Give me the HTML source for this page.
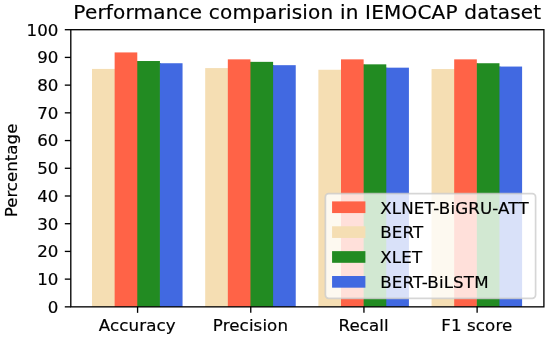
<!DOCTYPE html>
<html><head><meta charset="utf-8"><title>Performance comparision in IEMOCAP dataset</title>
<style>html,body{margin:0;padding:0;background:#fff}svg{display:block}text{font-family:"DejaVu Sans","Liberation Sans",sans-serif;fill:#000;stroke:#000;stroke-width:0.2px}</style></head><body>
<svg width="550" height="338" viewBox="0 0 550 338">
<rect width="550" height="338" fill="#fff"/>
<rect x="92.00" y="68.92" width="22.64" height="237.93" fill="#f5deb3"/>
<rect x="114.14" y="68.92" width="1.5" height="237.93" fill="#f5deb3"/>
<rect x="114.64" y="52.43" width="22.64" height="254.42" fill="#ff6347"/>
<rect x="136.78" y="61.02" width="1.5" height="245.83" fill="#ff6347"/>
<rect x="137.28" y="61.02" width="22.64" height="245.83" fill="#228b22"/>
<rect x="159.41" y="63.24" width="1.5" height="243.61" fill="#228b22"/>
<rect x="159.91" y="63.24" width="22.64" height="243.61" fill="#4169e1"/>
<rect x="205.19" y="68.09" width="22.64" height="238.76" fill="#f5deb3"/>
<rect x="227.32" y="68.09" width="1.5" height="238.76" fill="#f5deb3"/>
<rect x="227.82" y="59.36" width="22.64" height="247.49" fill="#ff6347"/>
<rect x="249.96" y="61.85" width="1.5" height="245.00" fill="#ff6347"/>
<rect x="250.46" y="61.85" width="22.64" height="245.00" fill="#228b22"/>
<rect x="272.60" y="65.18" width="1.5" height="241.67" fill="#228b22"/>
<rect x="273.10" y="65.18" width="22.64" height="241.67" fill="#4169e1"/>
<rect x="318.37" y="69.75" width="22.64" height="237.10" fill="#f5deb3"/>
<rect x="340.50" y="69.75" width="1.5" height="237.10" fill="#f5deb3"/>
<rect x="341.00" y="59.36" width="22.64" height="247.49" fill="#ff6347"/>
<rect x="363.14" y="64.34" width="1.5" height="242.51" fill="#ff6347"/>
<rect x="363.64" y="64.34" width="22.64" height="242.51" fill="#228b22"/>
<rect x="385.78" y="67.67" width="1.5" height="239.18" fill="#228b22"/>
<rect x="386.28" y="67.67" width="22.64" height="239.18" fill="#4169e1"/>
<rect x="431.55" y="69.06" width="22.64" height="237.79" fill="#f5deb3"/>
<rect x="453.69" y="69.06" width="1.5" height="237.79" fill="#f5deb3"/>
<rect x="454.19" y="59.36" width="22.64" height="247.49" fill="#ff6347"/>
<rect x="476.32" y="63.24" width="1.5" height="243.61" fill="#ff6347"/>
<rect x="476.82" y="63.24" width="22.64" height="243.61" fill="#228b22"/>
<rect x="498.96" y="66.56" width="1.5" height="240.29" fill="#228b22"/>
<rect x="499.46" y="66.56" width="22.64" height="240.29" fill="#4169e1"/>
<rect x="70.80" y="29.70" width="473.10" height="277.15" fill="none" stroke="#000" stroke-width="1.33" stroke-linejoin="miter"/>
<line x1="64.80" x2="70.80" y1="306.85" y2="306.85" stroke="#000" stroke-width="1.33"/>
<text x="58.40" y="312.75" font-size="16.67" text-anchor="end">0</text>
<line x1="64.80" x2="70.80" y1="279.13" y2="279.13" stroke="#000" stroke-width="1.33"/>
<text x="58.40" y="285.03" font-size="16.67" text-anchor="end">10</text>
<line x1="64.80" x2="70.80" y1="251.42" y2="251.42" stroke="#000" stroke-width="1.33"/>
<text x="58.40" y="257.32" font-size="16.67" text-anchor="end">20</text>
<line x1="64.80" x2="70.80" y1="223.70" y2="223.70" stroke="#000" stroke-width="1.33"/>
<text x="58.40" y="229.60" font-size="16.67" text-anchor="end">30</text>
<line x1="64.80" x2="70.80" y1="195.99" y2="195.99" stroke="#000" stroke-width="1.33"/>
<text x="58.40" y="201.89" font-size="16.67" text-anchor="end">40</text>
<line x1="64.80" x2="70.80" y1="168.28" y2="168.28" stroke="#000" stroke-width="1.33"/>
<text x="58.40" y="174.18" font-size="16.67" text-anchor="end">50</text>
<line x1="64.80" x2="70.80" y1="140.56" y2="140.56" stroke="#000" stroke-width="1.33"/>
<text x="58.40" y="146.46" font-size="16.67" text-anchor="end">60</text>
<line x1="64.80" x2="70.80" y1="112.84" y2="112.84" stroke="#000" stroke-width="1.33"/>
<text x="58.40" y="118.75" font-size="16.67" text-anchor="end">70</text>
<line x1="64.80" x2="70.80" y1="85.13" y2="85.13" stroke="#000" stroke-width="1.33"/>
<text x="58.40" y="91.03" font-size="16.67" text-anchor="end">80</text>
<line x1="64.80" x2="70.80" y1="57.41" y2="57.41" stroke="#000" stroke-width="1.33"/>
<text x="58.40" y="63.31" font-size="16.67" text-anchor="end">90</text>
<line x1="64.80" x2="70.80" y1="29.70" y2="29.70" stroke="#000" stroke-width="1.33"/>
<text x="58.40" y="35.60" font-size="16.67" text-anchor="end">100</text>
<line x1="137.58" x2="137.58" y1="306.85" y2="312.85" stroke="#000" stroke-width="1.33"/>
<text x="137.28" y="330.80" font-size="16.67" letter-spacing="0.1" text-anchor="middle">Accuracy</text>
<line x1="250.76" x2="250.76" y1="306.85" y2="312.85" stroke="#000" stroke-width="1.33"/>
<text x="250.46" y="330.80" font-size="16.67" letter-spacing="0.1" text-anchor="middle">Precision</text>
<line x1="363.94" x2="363.94" y1="306.85" y2="312.85" stroke="#000" stroke-width="1.33"/>
<text x="363.64" y="330.80" font-size="16.67" letter-spacing="0.1" text-anchor="middle">Recall</text>
<line x1="477.12" x2="477.12" y1="306.85" y2="312.85" stroke="#000" stroke-width="1.33"/>
<text x="476.82" y="330.80" font-size="16.67" letter-spacing="0.1" text-anchor="middle">F1 score</text>
<text transform="translate(17.0,170.47) rotate(-90)" font-size="16.67" text-anchor="middle">Percentage</text>
<text x="307.35" y="19" font-size="20.0" letter-spacing="0.2" text-anchor="middle">Performance comparision in IEMOCAP dataset</text>
<rect x="325.4" y="193.7" width="210.20000000000005" height="104.70" rx="3.3" ry="3.3" fill="#fff" fill-opacity="0.8" stroke="#ccc" stroke-opacity="0.8" stroke-width="1.67"/>
<rect x="332.07" y="201.40" width="33.33" height="11.67" fill="#ff6347"/>
<text x="380.23" y="213.80" font-size="16.67" letter-spacing="0.15">XLNET-BiGRU-ATT</text>
<rect x="332.07" y="226.27" width="33.33" height="11.67" fill="#f5deb3"/>
<text x="380.23" y="238.45" font-size="16.67" letter-spacing="0.15">BERT</text>
<rect x="332.07" y="251.14" width="33.33" height="11.67" fill="#228b22"/>
<text x="380.23" y="263.10" font-size="16.67" letter-spacing="0.15">XLET</text>
<rect x="332.07" y="276.01" width="33.33" height="11.67" fill="#4169e1"/>
<text x="380.23" y="287.75" font-size="16.67" letter-spacing="0.15">BERT-BiLSTM</text>
</svg></body></html>
